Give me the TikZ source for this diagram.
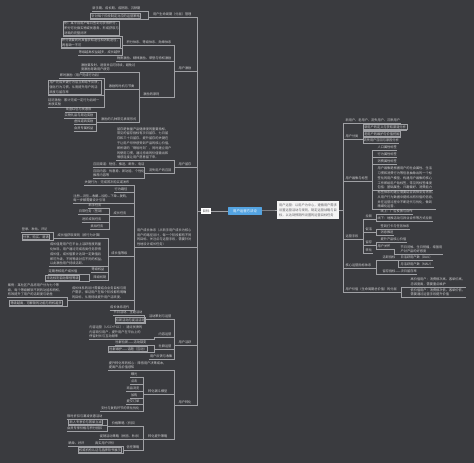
\documentclass[tikz,border=0pt]{standalone}
\usepackage{fontspec}
\setmainfont{Noto Sans CJK SC}
\usepackage{tikz}
\definecolor{bgc}{RGB}{58,59,63}
\definecolor{linec}{RGB}{160,161,165}
\definecolor{txtc}{RGB}{206,206,208}
\definecolor{hubc}{RGB}{84,164,226}
\definecolor{descc}{RGB}{244,244,244}
\definecolor{desct}{RGB}{95,95,100}

\begin{document}
\begin{tikzpicture}[x=1pt,y=-1pt,
  link/.style={draw=linec,line width=0.55pt},
  txt/.style={font=\fontsize{3.2}{4.8}\selectfont,text=txtc,align=left,
    inner xsep=0.4pt,inner ysep=0.7pt,
    append after command={(\tikzlastnode.south west) edge[link] (\tikzlastnode.south east)}},
  lt/.style={txt,anchor=south east},
  rt/.style={txt,anchor=south west},
  bx/.style={draw=linec,line width=0.55pt,inner xsep=1pt,inner ysep=1pt}]
\fill[bgc] (0,0) rectangle (474,463);
% centre topic, goal and summary
\node[fill=hubc,text=white,font=\fontsize{3.4}{4}\selectfont,inner xsep=5pt,inner ysep=2.4pt,rounded corners=0.6pt] (hub) at (245,211) {用户运营方法论};
\node[fill=white,text=desct,font=\fontsize{3.4}{4}\selectfont,inner sep=1.6pt] (goal) at (206,211) {目标};
\node[fill=descc,text=desct,font=\fontsize{3.2}{5}\selectfont,align=left,inner sep=2pt,anchor=west] (desc) at (277,210) {用户运营：以用户为中心，遵循用户需求\\设置运营活动与规则，制定运营战略与目\\标，以达到预期所设置的运营目标任务};
\draw[link] (goal) -- (hub);
\draw[link] (hub) -- (desc);

% left: lifecycle
\node[lt] (A) at (192,17) {用户生命周期（分层）管理};
\node[lt] (A1) at (141,11) {新手期、成长期、成熟期、沉默期};
\node[lt,bx] (A2) at (141,19) {针对每个阶段制定对应的运营策略};
% left: incentives
\node[lt] (B) at (192,71) {用户激励};
\node[lt] (B1) at (172,45) {积分体系、等级体系、勋章体系};
\node[lt,bx] (B1a) at (120,36) {例：某平台用户每日签到可获得积分，\\积分可兑换实物或优惠券，形成获取与\\消耗的完整闭环};
\node[lt,bx] (B1b) at (121,48) {积分需要同时具备获取途径和消耗途径，\\两者缺一不可};
\node[lt] (B1c) at (121,55) {等级越高权益越多，成长越快};
\node[lt] (B2) at (172,61) {物质激励、精神激励、荣誉与特权激励};
\node[lt] (B3) at (160,97) {激励的原则};
\node[lt] (B3a) at (136,72) {激励要及时、适度并且可持续，避免过\\度激励导致用户疲劳};
\node[lt] (B3b) at (135,89) {激励的时机与节奏};
\node[lt] (B3b1) at (102,78) {即时激励（用户完成行为后）};
\node[lt,bx] (B3b2) at (102,95) {用户完成关键行为后立即给予反馈，\\强化行为习惯，从而提升用户的活\\跃度与留存率};
\node[lt] (B3b3) at (100,107) {延迟激励：累计完成一定行为后统一\\发放奖励};
\node[lt] (B3c) at (137,122) {激励的几种常见表现形式};
\node[lt] (B3c1) at (92,112) {现金红包与优惠券};
\node[lt] (B3c2) at (94,118) {实物礼品与周边奖励};
\node[lt] (B3c3) at (94,124) {虚拟道具奖励};
\node[lt] (B3c4) at (94,131) {会员专属权益};
% left: retention
\node[lt] (C) at (192,167) {用户留存};
\node[lt] (C1) at (172,160) {留存是衡量产品健康度的重要指标，\\常见的留存指标有次日留存、七日留\\存和三十日留存。提升留存的关键在\\于让用户尽快感受到产品的核心价值，\\即所谓的“啊哈时刻”，同时建立用户\\的使用习惯，通过持续的价值输出和\\情感连接让用户愿意留下来。};
\node[lt] (C2) at (172,173) {流失用户的召回};
\node[lt] (C2a) at (145,167) {召回渠道：短信、推送、邮件、电话};
\node[lt] (C2b) at (145,178) {召回内容：优惠券、新功能、个性化\\推荐内容等};
% left: growth system
\node[lt] (D) at (192,247) {用户成长体系（从新手用户成长为核心\\用户的路径设计，每一个阶段都有不同\\的目标、关注点与运营手段，需要针对\\性地设计成长任务）};
\node[lt] (D1) at (130,185) {关键行为：完成首次购买或发布};
\node[lt] (D2) at (128,192) {行为路径};
\node[lt] (D3) at (130,203) {注册—浏览—收藏—加购—下单—复购，\\每一步都需要设计引导};
\node[lt] (D4) at (127,216) {成长任务};
\node[lt] (D4a) at (102,208) {新手任务};
\node[lt] (D4b) at (105,214) {日常任务（签到）};
\node[lt] (D4c) at (102,222) {进阶成就任务};
\node[lt] (D4d) at (104,229) {挑战任务};
\node[lt] (D5) at (128,256) {成长值等级};
\node[lt] (D5a) at (103,238) {成长值获取规则（按行为计算）};
\node[lt] (D5a1) at (48,232) {登录、发帖、评论};
\node[lt,bx] (D5a2) at (50,240) {分享、购买、邀请};
\node[lt] (D5b) at (105,266) {成长值是用户在平台上活跃程度的量\\化体现，用户通过完成各类任务获得\\成长值，成长值累计达到一定数值后\\即可升级，不同等级对应不同的权益，\\以此激励用户持续活跃。};
\node[lt] (D5c) at (105,272) {等级权益};
\node[lt] (D5d) at (107,280) {降级机制};
\node[lt] (D5d1) at (78,274) {定期考核用户成长值};
\node[lt,bx] (D5d2) at (80,281) {未达标则自动降低等级};
\node[lt] (D6) at (127,300) {成长体系的设计需要结合业务目标与用\\户需求，保证用户在每个阶段都有明确\\的目标，从而持续提升用户活跃度。};
\node[lt] (D6a) at (63,297) {案例：某社区产品将用户分为七个等\\级，每个等级解锁不同的功能和特权，\\有效提升了用户的活跃度与粘性};
\node[lt,bx] (D6b) at (63,306) {等级越高，可解锁的功能与特权越多};
\node[lt] (D7) at (130,310) {成长体系迭代};
% left: activity
\node[lt] (E) at (192,345) {用户活跃};
\node[lt] (E1) at (172,319) {活动策划与运营};
\node[lt] (E1a) at (143,315) {节日活动、主题活动};
\node[lt,bx] (E1b) at (146,323) {拉新活动与促活活动};
\node[lt] (E2) at (172,337) {内容运营};
\node[lt] (E2a) at (143,339) {内容运营（UGC+PGC）：通过优质的\\内容吸引用户，提升用户在平台上的\\停留时长与互动频率};
\node[lt] (E3) at (172,349) {社群运营};
\node[lt] (E3a) at (147,345) {社群拉新——活动裂变};
\node[lt,bx] (E3b) at (148,352) {社群维护——话题（互动）};
\node[lt] (E4) at (173,359) {用户反馈与收集};
% left: conversion
\node[lt] (F) at (192,405) {用户转化};
\node[lt] (F1) at (167,370) {提升转化率的核心：降低用户决策成本，\\提高产品价值感知};
\node[lt] (F2) at (168,394) {转化漏斗模型};
\node[lt] (F2a) at (138,377) {曝光};
\node[lt] (F2b) at (138,384) {点击};
\node[lt] (F2c) at (140,391) {商品浏览};
\node[lt] (F2d) at (138,398) {加购};
\node[lt] (F2e) at (140,404) {提交订单};
\node[lt] (F2f) at (140,411) {支付与复购环节的转化优化};
\node[lt] (F3) at (168,439) {转化提升策略};
\node[lt] (F3a) at (138,426) {价格策略（折扣）};
\node[lt] (F3a1) at (103,419) {限时折扣与满减优惠活动};
\node[lt,bx] (F3a2) at (103,425) {新人专享价与首单立减};
\node[lt] (F3a3) at (103,431) {会员专享价格与积分抵扣};
\node[lt] (F3b) at (142,439) {促销活动策略（拼团、秒杀）};
\node[lt] (F3c) at (140,450) {信任策略};
\node[lt] (F3c1) at (115,446) {真实用户评价};
\node[lt] (F3c1a) at (85,446) {晒单、好评};
\node[lt,bx] (F3c2) at (122,453) {权威机构认证与品牌背书展示};

% right: user types, portraits, means, metrics, value
\node[rt] (R1) at (345,123) {新用户、老用户、流失用户、沉默用户};
\node[rt] (R2) at (345,139) {用户分类};
\node[rt,bx] (R2a) at (363,130) {新用户的定义与获取渠道分析};
\node[rt,bx] (R2b) at (363,137) {老用户的维护与价值挖掘};
\node[rt] (R2c) at (363,143) {流失用户召回与原因分析};
\node[rt] (R3) at (345,181) {用户画像与标签};
\node[rt] (R3a) at (377,150) {人口属性标签};
\node[rt] (R3b) at (377,157) {行为属性标签};
\node[rt] (R3c) at (377,164) {消费属性标签};
\node[rt] (R3d) at (377,190) {用户画像是根据用户的社会属性、生活\\习惯和消费行为等信息抽象出的一个标\\签化的用户模型。构建用户画像的核心\\工作即给用户贴标签，常见的标签维度\\包括：基础属性、兴趣偏好、消费能力};
\node[rt] (R3e) at (377,209) {标签体系的建立需要结合具体业务场景，\\从用户行为数据中提炼出有价值的信息，\\并在运营过程中不断迭代与优化，做到\\精细化运营。};
\node[rt] (R4) at (345,239) {运营手段};
\node[rt] (R4a) at (365,219) {拉新};
\node[rt] (R4a1) at (380,214) {线上：广告投放与合作};
\node[rt] (R4a2) at (377,221) {线下：地推活动与异业合作等方式拉新};
\node[rt] (R4b) at (365,232) {促活};
\node[rt] (R4b1) at (380,229) {签到打卡与任务体系};
\node[rt] (R4b2) at (380,235) {消息推送};
\node[rt] (R4c) at (365,245) {留存};
\node[rt] (R4c1) at (380,242) {提升产品核心价值};
\node[rt] (R4c2) at (377,249) {用户关怀};
\node[rt] (R4c2a) at (400,254) {节日问候、生日祝福，增强用\\户对产品的好感度};
\node[rt] (R4d) at (365,253) {转化};
\node[rt] (R5) at (345,268) {核心运营指标体系};
\node[rt] (R5a) at (382,260) {活跃指标};
\node[rt] (R5a1) at (400,260) {日活跃用户数（DAU）};
\node[rt] (R5a2) at (400,267) {月活跃用户数（MAU）};
\node[rt] (R5b) at (382,274) {留存指标——次日留存率};
\node[rt] (R6) at (345,292) {用户价值（生命周期总价值）的分层};
\node[rt] (R6a) at (410,287) {高价值用户：消费频次高、客单价高，\\忠诚度高，需要重点维护};
\node[rt] (R6b) at (410,297) {低价值用户：消费频次低、客单价低，\\需要通过运营手段提升价值};

% connectors, left side
\foreach \n in {A,B,C,D,E,F} \draw[link] (goal.west) -- ++(-4,0) |- (\n.south east);
\foreach \n in {A1,A2} \draw[link] (A.south west) -- ++(-4,0) |- (\n.south east);
\foreach \n in {B1,B2,B3} \draw[link] (B.south west) -- ++(-4,0) |- (\n.south east);
\foreach \n in {B1a,B1b,B1c} \draw[link] (B1.south west) -- ++(-4,0) |- (\n.south east);
\foreach \n in {B3a,B3b,B3c} \draw[link] (B3.south west) -- ++(-4,0) |- (\n.south east);
\foreach \n in {B3b1,B3b2,B3b3} \draw[link] (B3b.south west) -- ++(-4,0) |- (\n.south east);
\foreach \n in {B3c1,B3c2,B3c3,B3c4} \draw[link] (B3c.south west) -- ++(-4,0) |- (\n.south east);
\foreach \n in {C1,C2} \draw[link] (C.south west) -- ++(-4,0) |- (\n.south east);
\foreach \n in {C2a,C2b} \draw[link] (C2.south west) -- ++(-4,0) |- (\n.south east);
\foreach \n in {D1,D2,D3,D4,D5,D6,D7} \draw[link] (D.south west) -- ++(-2,0) |- (\n.south east);
\foreach \n in {D4a,D4b,D4c,D4d} \draw[link] (D4.south west) -- ++(-4,0) |- (\n.south east);
\foreach \n in {D5a,D5b,D5c,D5d} \draw[link] (D5.south west) -- ++(-3,0) |- (\n.south east);
\foreach \n in {D5a1,D5a2} \draw[link] (D5a.south west) -- ++(-4,0) |- (\n.south east);
\foreach \n in {D5d1,D5d2} \draw[link] (D5d.south west) -- ++(-4,0) |- (\n.south east);
\foreach \n in {D6a,D6b} \draw[link] (D6.south west) -- ++(-4,0) |- (\n.south east);
\foreach \n in {E1,E2,E3,E4} \draw[link] (E.south west) -- ++(-4,0) |- (\n.south east);
\foreach \n in {E1a,E1b} \draw[link] (E1.south west) -- ++(-4,0) |- (\n.south east);
\draw[link] (E2.south west) -- ++(-4,0) |- (E2a.south east);
\foreach \n in {E3a,E3b} \draw[link] (E3.south west) -- ++(-4,0) |- (\n.south east);
\foreach \n in {F1,F2,F3} \draw[link] (F.south west) -- ++(-4,0) |- (\n.south east);
\foreach \n in {F2a,F2b,F2c,F2d,F2e,F2f} \draw[link] (F2.south west) -- ++(-4,0) |- (\n.south east);
\foreach \n in {F3a,F3b,F3c} \draw[link] (F3.south west) -- ++(-4,0) |- (\n.south east);
\foreach \n in {F3a1,F3a2,F3a3} \draw[link] (F3a.south west) -- ++(-4,0) |- (\n.south east);
\foreach \n in {F3c1,F3c2} \draw[link] (F3c.south west) -- ++(-3,0) |- (\n.south east);
\draw[link] (F3c1.south west) -- (F3c1a.south east);
% connectors, right side
\foreach \n in {R1,R2,R3,R4,R5,R6} \draw[link] (desc.east) -- ++(4,0) |- (\n.south west);
\foreach \n in {R2a,R2b,R2c} \draw[link] (R2.south east) -- ++(4,0) |- (\n.south west);
\foreach \n in {R3a,R3b,R3c,R3d,R3e} \draw[link] (R3.south east) -- ++(4,0) |- (\n.south west);
\foreach \n in {R4a,R4b,R4c,R4d} \draw[link] (R4.south east) -- ++(4,0) |- (\n.south west);
\foreach \n in {R4a1,R4a2} \draw[link] (R4a.south east) -- ++(4,0) |- (\n.south west);
\foreach \n in {R4b1,R4b2} \draw[link] (R4b.south east) -- ++(4,0) |- (\n.south west);
\foreach \n in {R4c1,R4c2} \draw[link] (R4c.south east) -- ++(4,0) |- (\n.south west);
\draw[link] (R4c2.south east) -- ++(3,0) |- (R4c2a.south west);
\foreach \n in {R5a,R5b} \draw[link] (R5.south east) -- ++(4,0) |- (\n.south west);
\foreach \n in {R5a1,R5a2} \draw[link] (R5a.south east) -- ++(2,0) |- (\n.south west);
\foreach \n in {R6a,R6b} \draw[link] (R6.south east) -- ++(4,0) |- (\n.south west);
\end{tikzpicture}
\end{document}
